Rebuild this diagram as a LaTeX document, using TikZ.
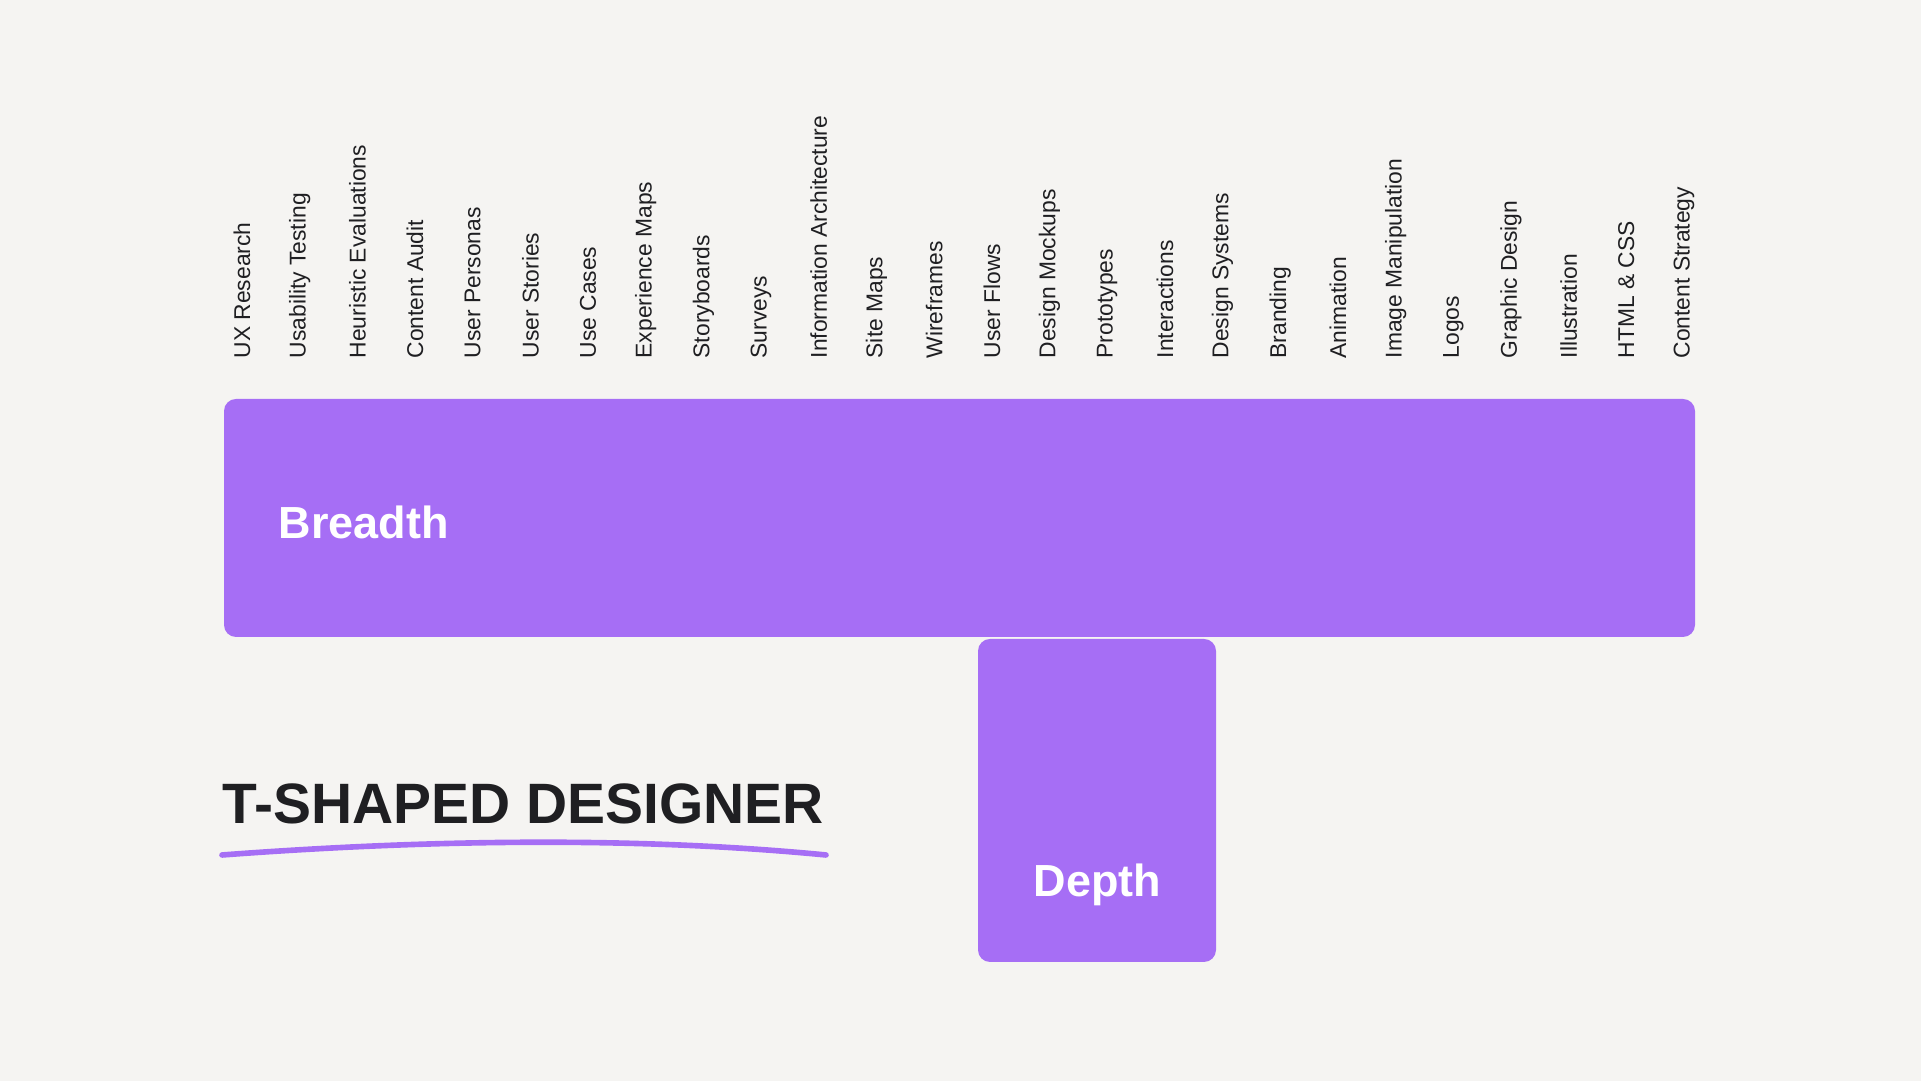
\documentclass[tikz,border=0pt]{standalone}
\usepackage{fontspec}
\setmainfont{Liberation Sans}
\newfontfamily\lblfont{Liberation Sans}
\definecolor{bg}{HTML}{F5F4F2}
\definecolor{purp}{HTML}{A66EF5}
\definecolor{ink}{HTML}{1F1F22}
\begin{document}
\begin{tikzpicture}[x=1cm,y=1cm,
  bar/.style={fill=purp,rounded corners=0.12cm},
  lbl/.style={rotate=90,anchor=west,inner sep=0,font=\lblfont\fontsize{6.5}{7}\selectfont,text=ink},
  big/.style={anchor=west,inner sep=0,text=white,font=\fontsize{12.8}{15}\selectfont\bfseries}]
\fill[bg] (0,0) rectangle (19.21,-10.81);
\useasboundingbox (0,0) rectangle (19.21,-10.81);
\fill[bar] (2.24,-3.99) rectangle (16.95,-6.37);
\fill[bar] (9.78,-6.39) rectangle (12.16,-9.62);
\node[big] (br) at (2.78,-5.22) {Breadth};
\node[big] (dp) at (10.33,-8.85) {Depth};
\foreach [count=\i from 0] \t in {UX Research,Usability Testing,Heuristic Evaluations,Content Audit,User Personas,User Stories,Use Cases,Experience Maps,Storyboards,Surveys,Information Architecture,Site Maps,Wireframes,User Flows,Design Mockups,Prototypes,Interactions,Design Systems,Branding,Animation,Image Manipulation,Logos,Graphic Design,Illustration,HTML \& CSS,Content Strategy}
  \node[lbl] (l\i) at ({2.42+0.5768*\i},-3.59) {\t};
\node[anchor=west,inner sep=0,text=ink,font=\fontsize{16.2}{20}\selectfont\bfseries] (title) at (2.22,-8.04) {T-SHAPED DESIGNER};
\coordinate (u1) at (2.22,-8.55);
\coordinate (u2) at (8.26,-8.55);
\draw[purp,line width=1.6pt,line cap=round] (u1) .. controls (4.5,-8.38) and (6.5,-8.38) .. (u2);
\end{tikzpicture}
\end{document}
